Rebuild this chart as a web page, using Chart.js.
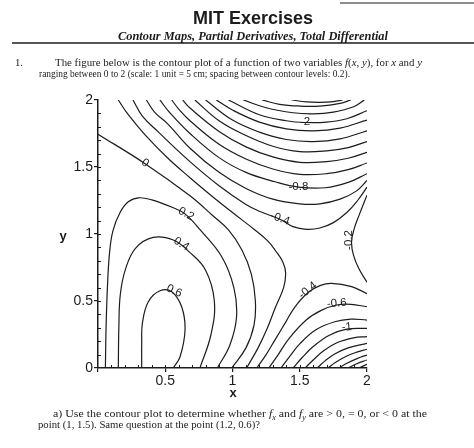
<!DOCTYPE html>
<html>
<head>
<meta charset="utf-8">
<script src="https://cdn.jsdelivr.net/npm/chart.js@4.4.1/dist/chart.umd.min.js"></script>
<style>
  html, body { margin: 0; padding: 0; background: #fff; }
  #wrap { width: 474px; height: 448px; }
</style>
</head>
<body>
<div id="wrap"><canvas id="contourChart" width="474" height="448"></canvas></div>
<script>
// contour lines, [x, y] in data units (levels 0.2 apart)
const c06 = [[0.325, 0], [0.325, 0.18], [0.33, 0.333], [0.374, 0.495], [0.461, 0.577], [0.548, 0.569], [0.622, 0.457], [0.647, 0.284], [0.61, 0.084], [0.56, 0]];
const c04 = [[0.151, 0], [0.155, 0.3], [0.166, 0.55], [0.205, 0.74], [0.28, 0.895], [0.41, 0.975], [0.56, 0.955], [0.68, 0.865], [0.8, 0.73], [0.865, 0.5], [0.84, 0.25], [0.758, 0]];
const c02 = [[0.055, 0], [0.06, 0.3], [0.07, 0.6], [0.085, 0.85], [0.11, 1.02], [0.164, 1.16], [0.225, 1.24], [0.3, 1.27], [0.4, 1.255], [0.55, 1.2], [0.647, 1.15], [0.76, 1.03], [0.92, 0.83], [1.01, 0.6], [1.03, 0.38], [0.98, 0.17], [0.887, 0]];
const c00 = [[0, 1.745], [0.35, 1.525], [0.684, 1.285], [0.85, 1.14], [0.97, 1.03], [1.07, 0.88], [1.14, 0.7], [1.17, 0.5], [1.16, 0.32], [1.1, 0.15], [0.994, 0]];
const cm02L = [[0.151, 2], [0.225, 1.89], [0.35, 1.74], [0.52, 1.565], [0.684, 1.42], [0.85, 1.28], [1.0, 1.16], [1.167, 1.03], [1.26, 0.95], [1.32, 0.875], [1.375, 0.79], [1.395, 0.71], [1.38, 0.6], [1.32, 0.455], [1.26, 0.3], [1.19, 0.15], [1.105, 0]];
const cm02R = [[2, 1.29], [1.945, 1.15], [1.905, 1.04], [1.885, 0.94], [1.9, 0.84], [1.94, 0.74], [2, 0.64]];
const cm04U = [[0.26, 2], [0.33, 1.88], [0.45, 1.76], [0.684, 1.54], [0.9, 1.36], [1.1, 1.22], [1.2, 1.17], [1.353, 1.11], [1.45, 1.055], [1.55, 1.035], [1.65, 1.045], [1.75, 1.085], [1.85, 1.16], [1.93, 1.25], [2, 1.35]];
const cm04L = [[1.18, 0], [1.25, 0.1], [1.316, 0.21], [1.4, 0.35], [1.465, 0.457], [1.564, 0.565], [1.65, 0.615], [1.737, 0.632], [1.886, 0.607], [2, 0.555]];
const cm06U = [[0.36, 2], [0.42, 1.91], [0.52, 1.82], [0.684, 1.64], [0.9, 1.46], [1.1, 1.34], [1.3, 1.26], [1.5, 1.225], [1.65, 1.225], [1.8, 1.26], [1.92, 1.32], [2, 1.4]];
const cm06L = [[1.27, 0], [1.34, 0.1], [1.42, 0.22], [1.55, 0.36], [1.66, 0.43], [1.775, 0.47], [1.88, 0.475], [2, 0.457]];
const cm08U = [[0.46, 2], [0.53, 1.91], [0.684, 1.75], [0.9, 1.57], [1.1, 1.46], [1.316, 1.39], [1.49, 1.35], [1.69, 1.345], [1.86, 1.385], [2, 1.45]];
const cm08L = [[1.36, 0], [1.42, 0.08], [1.5, 0.18], [1.62, 0.285], [1.76, 0.345], [1.88, 0.365], [2, 0.358]];
const cm10U = [[0.548, 2], [0.61, 1.92], [0.684, 1.845], [0.9, 1.67], [1.1, 1.56], [1.3, 1.485], [1.5, 1.445], [1.7, 1.45], [1.86, 1.48], [2, 1.53]];
const cm10L = [[1.45, 0], [1.52, 0.08], [1.6, 0.16], [1.72, 0.245], [1.85, 0.29], [2, 0.296]];
const cm12U = [[0.63, 2], [0.684, 1.94], [0.9, 1.765], [1.1, 1.65], [1.3, 1.575], [1.5, 1.535], [1.7, 1.54], [1.86, 1.565], [2, 1.61]];
const cm12L = [[1.54, 0], [1.6, 0.06], [1.68, 0.13], [1.78, 0.19], [1.9, 0.225], [2, 0.234]];
const cm14U = [[0.72, 2], [0.9, 1.845], [1.1, 1.735], [1.3, 1.655], [1.5, 1.615], [1.7, 1.62], [1.86, 1.645], [2, 1.69]];
const cm14L = [[1.63, 0], [1.69, 0.055], [1.76, 0.105], [1.86, 0.15], [2, 0.184]];
const cm16U = [[0.8, 2], [1.0, 1.85], [1.2, 1.76], [1.4, 1.705], [1.6, 1.69], [1.8, 1.71], [2, 1.77]];
const cm16L = [[1.71, 0], [1.77, 0.045], [1.85, 0.09], [1.93, 0.12], [2, 0.14]];
const cm18U = [[0.88, 2], [1.0, 1.925], [1.2, 1.835], [1.4, 1.785], [1.6, 1.77], [1.8, 1.79], [2, 1.85]];
const cm18L = [[1.79, 0], [1.85, 0.035], [1.93, 0.072], [2, 0.097]];
const cm20U = [[0.97, 2], [1.2, 1.89], [1.4, 1.845], [1.54, 1.832], [1.7, 1.835], [1.85, 1.86], [2, 1.92]];
const cm20L = [[1.86, 0], [1.92, 0.03], [2, 0.06]];
const cm22U = [[1.08, 2], [1.25, 1.942], [1.45, 1.905], [1.6, 1.897], [1.75, 1.91], [1.9, 1.95], [1.98, 2]];
const cm22L = [[1.94, 0], [2, 0.028]];
const cm24U = [[1.22, 2], [1.35, 1.968], [1.5, 1.955], [1.65, 1.955], [1.8, 1.975], [1.88, 2]];
const cm26U = [[1.44, 2], [1.55, 1.986], [1.65, 1.983], [1.75, 1.988], [1.82, 2]];

const contourLines = [c06, c04, c02, c00, cm02L, cm02R, cm04U, cm04L, cm06U, cm06L, cm08U, cm08L,
  cm10U, cm10L, cm12U, cm12L, cm14U, cm14L, cm16U, cm16L, cm18U, cm18L, cm20U, cm20L, cm22U, cm22L, cm24U, cm26U];

const xTickLabels = ["", "0.5", "1", "1.5", "2"];
const yTickLabels = ["0", "0.5", "1", "1.5", "2"];

// in-line contour labels
const labelText = ["0.6", "0.4", "0.2", "0", "-0.2", "-0.4", "-0.8", "-2", "-0.4", "-0.6", "-1"];
const labelX = [0.567, 0.62, 0.655, 0.35, 1.865, 1.353, 1.49, 1.54, 1.56, 1.775, 1.85];
const labelY = [0.575, 0.925, 1.15, 1.53, 0.955, 1.115, 1.352, 1.835, 0.58, 0.482, 0.305];
const labelAngle = [25, 32, 30, 33, -90, 20, 0, 0, -38, -5, -5];

const ink = "#1c1c1c";
const serif = '"Liberation Serif", "Times New Roman", serif';
const sans = '"Liberation Sans", Arial, sans-serif';

// draws a run of differently styled pieces, squeezed to a given width
function fitText(c, parts, x, y, width) {
  let total = 0;
  parts.forEach(p => { c.font = p[1]; total += c.measureText(p[0]).width; });
  c.save();
  c.translate(x, y);
  c.scale(width / total, 1);
  let cx = 0;
  parts.forEach(p => {
    c.font = p[1];
    c.fillText(p[0], cx, p[2] || 0);
    cx += c.measureText(p[0]).width;
  });
  c.restore();
}

const pagePlugin = {
  id: "pageText",
  afterDraw(chart) {
    const c = chart.ctx;
    const xs = chart.scales.x, ys = chart.scales.y;
    const area = chart.chartArea;
    c.save();
    c.fillStyle = ink;
    c.strokeStyle = ink;

    // minor ticks every 0.1, pointing inward
    c.lineWidth = 1;
    c.beginPath();
    for (let i = 1; i < 20; i++) {
      const v = i / 10;
      const px = Math.round(xs.getPixelForValue(v)) + 0.5;
      c.moveTo(px, area.bottom);
      c.lineTo(px, area.bottom - 3);
      const py = Math.round(ys.getPixelForValue(v)) + 0.5;
      c.moveTo(area.left, py);
      c.lineTo(area.left + 3, py);
    }
    c.stroke();

    // contour labels
    c.font = "11.5px " + sans;
    c.textAlign = "center";
    c.textBaseline = "middle";
    labelText.forEach((t, i) => {
      c.save();
      c.translate(xs.getPixelForValue(labelX[i]), ys.getPixelForValue(labelY[i]));
      c.rotate(labelAngle[i] * Math.PI / 180);
      c.fillText(t, 0, 0);
      c.restore();
    });

    // axis names
    c.font = "bold 13px " + sans;
    c.fillText("y", 63, 236);
    c.fillText("x", 233, 393);

    // header
    c.textAlign = "left";
    c.textBaseline = "alphabetic";
    fitText(c, [["MIT Exercises", "bold 19px " + sans]], 193, 24, 120);
    fitText(c, [["Contour Maps, Partial Derivatives, Total Differential", "italic bold 13px " + serif]], 118, 39.5, 270);
    c.lineWidth = 1.6;
    c.beginPath();
    c.moveTo(12, 43);
    c.lineTo(474, 43);
    c.stroke();
    c.lineWidth = 1;
    c.beginPath();
    c.moveTo(340, 3);
    c.lineTo(474, 3);
    c.stroke();

    const r = "10.5px " + serif, it = "italic 10.5px " + serif, sub = "italic 7.5px " + serif;
    fitText(c, [["1.", "11px " + serif]], 15, 66, 8);
    fitText(c, [["The figure below is the contour plot of a function of two variables ", r], ["f", it], ["(", r], ["x", it],
      [", ", r], ["y", it], ["), for ", r], ["x", it], [" and ", r], ["y", it]], 55, 65.5, 367);
    fitText(c, [["ranging between 0 to 2 (scale: 1 unit = 5 cm; spacing between contour levels: 0.2).", r]], 39, 76.5, 311);

    // question below the plot
    const r2 = "11px " + serif, it2 = "italic 11px " + serif, sub2 = "italic 7.5px " + serif;
    fitText(c, [["a) Use the contour plot to determine whether ", r2], ["f", it2], ["x", sub2, 3], [" and ", r2], ["f", it2], ["y", sub2, 3],
      [" are > 0, = 0, or < 0 at the", r2]], 53, 416.5, 374);
    fitText(c, [["point (1, 1.5). Same question at the point (1.2, 0.6)?", r2]], 38, 427.5, 222);
    c.restore();
  }
};

const ctx = document.getElementById("contourChart").getContext("2d");

const contourChart = new Chart(ctx, {
  type: "scatter",
  data: {
    datasets: contourLines.map(pts => ({
      data: pts.map(p => ({ x: p[0], y: p[1] })),
      showLine: true,
      borderColor: ink,
      borderWidth: 1.2,
      pointRadius: 0,
      tension: 0.4,
      fill: false,
    })),
  },
  options: {
    responsive: false,
    animation: false,
    layout: { padding: { left: 0, top: 100, right: 107, bottom: 0 } },
    plugins: {
      legend: { display: false },
      tooltip: { enabled: false },
    },
    scales: {
      x: {
        type: "linear",
        min: 0,
        max: 2,
        afterFit: s => { s.height = 80; },
        ticks: {
          stepSize: 0.5,
          maxRotation: 0,
          autoSkip: false,
          padding: 1,
          color: ink,
          font: { family: sans, size: 14 },
          callback: (v, i) => xTickLabels[i],
        },
        grid: { drawOnChartArea: false, drawTicks: true, tickLength: 4, color: ink, lineWidth: 1.2 },
        border: { display: true, color: ink, width: 1.5 },
      },
      y: {
        type: "linear",
        min: 0,
        max: 2,
        afterFit: s => { s.width = 98; },
        ticks: {
          stepSize: 0.5,
          autoSkip: false,
          padding: 1,
          color: ink,
          font: { family: sans, size: 14 },
          callback: (v, i) => yTickLabels[i],
        },
        grid: { drawOnChartArea: false, drawTicks: true, tickLength: 4, color: ink, lineWidth: 1.2 },
        border: { display: true, color: ink, width: 1.5 },
      },
    },
  },
  plugins: [pagePlugin],
});
</script>
</body>
</html>
